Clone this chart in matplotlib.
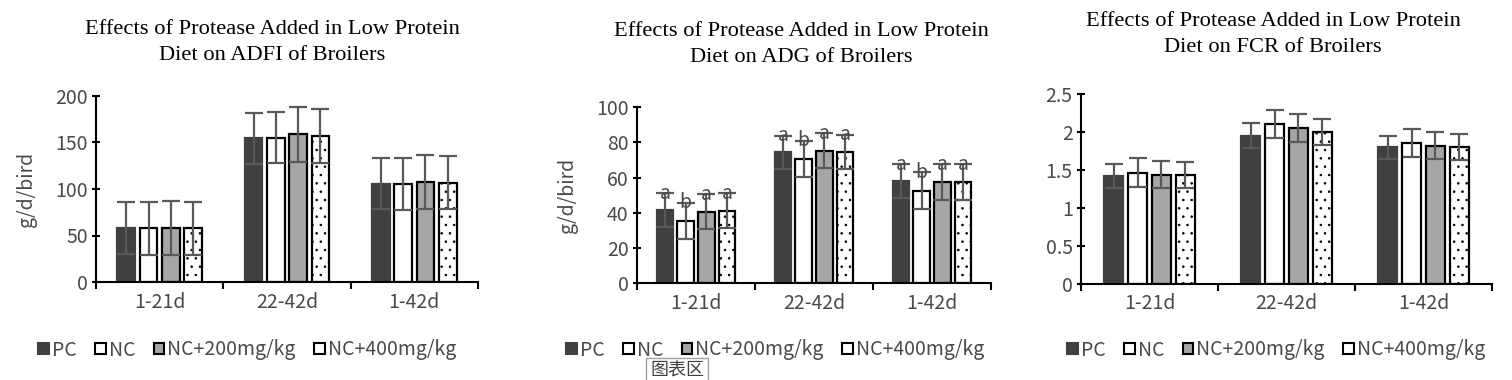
"""
Protease in low-protein diets: ADFI / ADG / FCR of broilers, three bar panels.
"""

import matplotlib.pyplot as plt
import numpy as np
from matplotlib.patches import Patch

# ---------------------------------------------------------------------------
# Data
# ---------------------------------------------------------------------------
periods = ['1-21d', '22-42d', '1-42d']
groups  = ['PC', 'NC', 'NC+200mg/kg', 'NC+400mg/kg']

# ADFI (g/d/bird), rows = groups, cols = periods
adfi     = [[57.6, 154.6, 105.9],
            [58.0, 155.0, 105.5],
            [58.0, 158.9, 107.7],
            [58.0, 157.0, 106.6]]
adfi_err = [[28.0, 27.5, 27.3],
            [28.5, 27.5, 27.9],
            [29.5, 29.5, 28.8],
            [28.5, 28.6, 28.6]]

# ADG (g/d/bird)
adg      = [[41.4, 74.4, 57.9],
            [35.5, 70.8, 52.6],
            [40.6, 75.3, 57.5],
            [41.2, 74.8, 57.5]]
adg_err  = [[9.7, 9.5, 9.8],
            [10.2, 10.2, 10.3],
            [10.0, 10.0, 10.2],
            [9.8, 9.7, 10.2]]
adg_sig  = [['a', 'a', 'a'],
            ['b', 'b', 'b'],
            ['a', 'a', 'a'],
            ['a', 'a', 'a']]

# FCR
fcr      = [[1.417, 1.95, 1.794],
            [1.46, 2.10, 1.85],
            [1.434, 2.048, 1.816],
            [1.434, 1.996, 1.803]]
fcr_err  = [[0.16, 0.165, 0.156],
            [0.19, 0.18, 0.18],
            [0.18, 0.18, 0.18],
            [0.17, 0.17, 0.17]]

titles = ['Effects of Protease Added in Low Protein\nDiet on ADFI of Broilers',
          'Effects of Protease Added in Low Protein\nDiet on ADG of Broilers',
          'Effects of Protease Added in Low Protein\nDiet on FCR of Broilers']

# ---------------------------------------------------------------------------
# Style
# ---------------------------------------------------------------------------
SANS  = ['Noto Sans CJK SC', 'DejaVu Sans']
SERIF = 'Liberation Serif'
TXT   = '#4a4a4a'
ERRC  = '#595959'
FS    = 14

faces  = ['#404040', 'white', '#a6a6a6', 'white']
edges  = ['#404040', 'black', 'black', 'black']
hatchs = [None, None, None, '..']

plt.rcParams['font.family'] = SANS
plt.rcParams['hatch.linewidth'] = 0.6

fig = plt.figure(figsize=(15.12, 3.8), dpi=100)

W, H = 1512, 380
def box(l, r, t, b):
    return [l / W, 1 - b / H, (r - l) / W, (b - t) / H]

panels = [
    dict(rect=box(96, 478, 96, 282), vals=adfi, err=adfi_err, ylim=(0, 200),
         yticks=[0, 50, 100, 150, 200], ylabel=True, sig=None,
         title_xy=(272, 42.5), leg_x=247),
    dict(rect=box(637, 991, 107.3, 283), vals=adg, err=adg_err, ylim=(0, 100),
         yticks=[0, 20, 40, 60, 80, 100], ylabel=True, sig=adg_sig,
         title_xy=(801, 44), leg_x=775),
    dict(rect=box(1081, 1492, 93.7, 283.7), vals=fcr, err=fcr_err, ylim=(0, 2.5),
         yticks=[0, 0.5, 1, 1.5, 2, 2.5], ylabel=False, sig=None,
         title_xy=(1273, 34), leg_x=1276),
]

pitch, width = 0.175, 0.14
x = np.arange(len(periods))

for p, title in zip(panels, titles):
    ax = fig.add_axes(p['rect'])
    for i in range(len(groups)):
        xi = x + (i - 1.5) * pitch
        ax.bar(xi, p['vals'][i], width=width, color=faces[i], edgecolor=edges[i],
               linewidth=1.6, hatch=hatchs[i], zorder=2)
        ax.errorbar(xi, p['vals'][i], yerr=p['err'][i], fmt='none', ecolor=ERRC,
                    elinewidth=1.6, capsize=6.5, capthick=1.6, zorder=3)
        if p['sig'] is not None:
            for xx, v, e, s in zip(xi, p['vals'][i], p['err'][i], p['sig'][i]):
                ax.text(xx, v + e, s, ha='center', va='center', fontsize=FS,
                        color=TXT, zorder=4)

    ax.set_xlim(-0.5, 2.5)
    ax.set_ylim(*p['ylim'])
    ax.set_yticks(p['yticks'])
    ax.set_yticklabels([f'{t:g}' for t in p['yticks']])
    ax.set_xticks(x)
    ax.set_xticklabels(periods)
    ax.set_xticks([-0.5, 0.5, 1.5, 2.5], minor=True)
    ax.tick_params(axis='x', which='major', length=0, pad=7, labelsize=FS,
                   labelcolor=TXT)
    ax.tick_params(axis='x', which='minor', length=5, width=1.5, direction='out')
    ax.tick_params(axis='y', length=6, width=1.5, direction='inout',
                   labelsize=FS, labelcolor=TXT, pad=3)
    for s in ['top', 'right']:
        ax.spines[s].set_visible(False)
    for s in ['left', 'bottom']:
        ax.spines[s].set_linewidth(1.5)
        ax.spines[s].set_color('black')
    if p['ylabel']:
        ax.set_ylabel('g/d/bird', fontsize=FS, color=TXT, labelpad=13)

    tx, ty = p['title_xy']
    fig.text(tx / W, 1 - ty / H, title, ha='center', va='center',
             family=SERIF, fontsize=16.2, linespacing=1.5)

    handles = [Patch(facecolor=faces[i], edgecolor=edges[i], linewidth=1.5)
               for i in range(len(groups))]
    fig.legend(handles, groups, loc='center', ncol=4, frameon=False,
               bbox_to_anchor=(p['leg_x'] / W, 1 - 350 / H), fontsize=FS,
               handlelength=0.55, handleheight=0.55, handletextpad=0.15,
               columnspacing=0.95, labelcolor=TXT)

# chart-area tooltip visible in the screenshot
fig.text(677 / W, 1 - 371 / H, '图表区', ha='center', va='center', fontsize=13,
         color='#404040', family=SANS,
         bbox=dict(boxstyle='square,pad=0.2', facecolor='white',
                   edgecolor='#a0a0a0', linewidth=1.0))

fig.savefig('out.png', dpi=100)
